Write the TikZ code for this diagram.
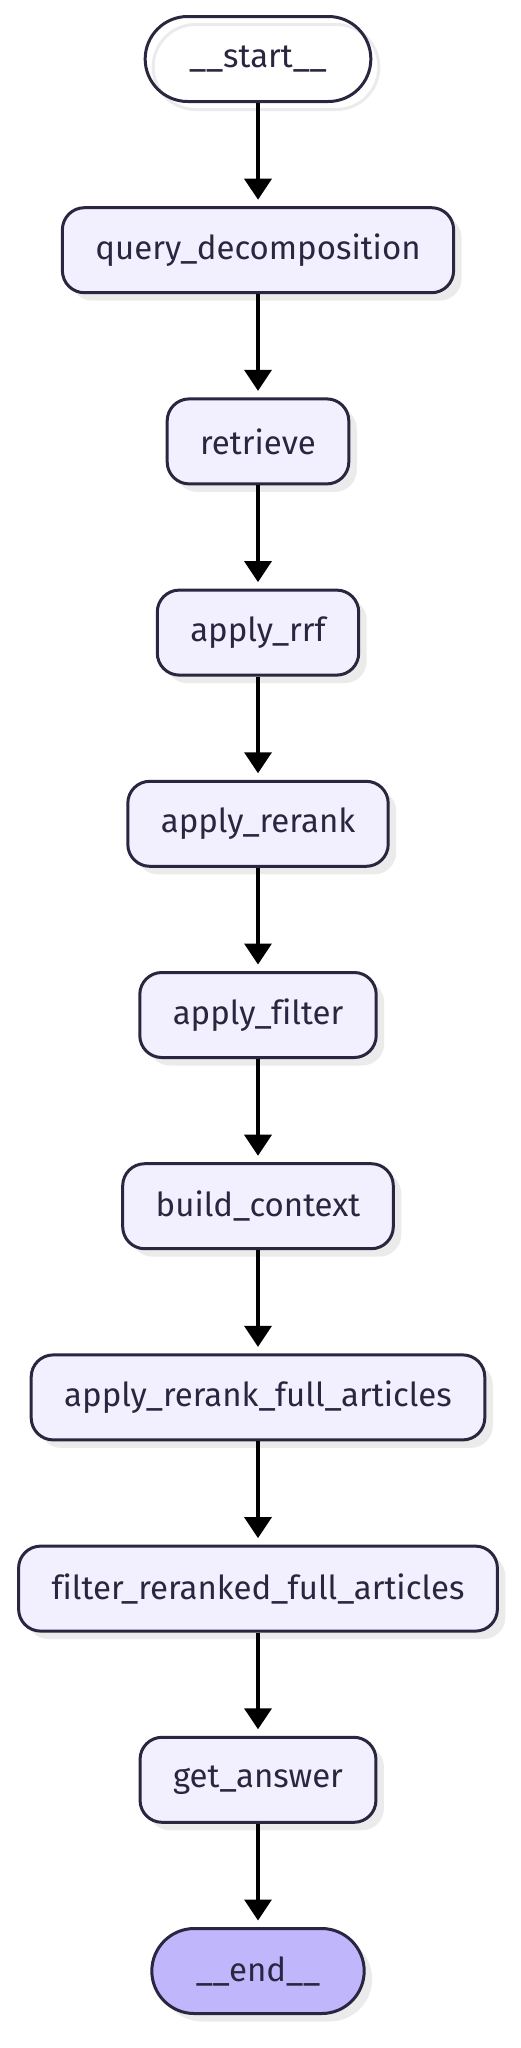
\documentclass[tikz,border=0pt]{standalone}
\usepackage{fontspec}
\setmainfont[Ligatures=NoCommon]{Fira Sans}
\usetikzlibrary{arrows.meta,shadows,positioning}

\definecolor{nodefill}{HTML}{F2F0FF}
\definecolor{endfill}{HTML}{BFB6FC}
\definecolor{nodeline}{HTML}{2B2640}
\definecolor{shadowgray}{HTML}{EBEBEB}

\begin{document}
\begin{tikzpicture}[->,>={Triangle[width=27pt,length=21pt]},shorten >=6.5pt,
                    line width=3.5pt,node distance=191.2pt,
                    every node/.style={font=\fontsize{33}{36}\selectfont}]

  \tikzstyle{node base}=[draw=nodeline,text=nodeline,line width=3pt,minimum height=85pt]
  \tikzstyle{box}=[node base,fill=nodefill,rounded corners=22pt,inner xsep=33pt,
                   drop shadow={shadow xshift=8pt,shadow yshift=-8pt,fill=shadowgray,opacity=1}]
  \tikzstyle{terminal}=[node base,rounded corners=42.5pt,inner xsep=44pt]

  \useasboundingbox (0,0) rectangle (521pt,-2048pt);

  \node[terminal,drop shadow={shadow xshift=8pt,shadow yshift=-8pt,fill=none,
        draw=shadowgray,opacity=1}] (start) at (258pt,-59pt) {\_\_start\_\_};
  \node[box] (query)   [below of=start]   {query\_decomposition};
  \node[box] (retr)    [below of=query]   {retrieve};
  \node[box] (rrf)     [below of=retr]    {apply\_rrf};
  \node[box] (rerank)  [below of=rrf]     {apply\_rerank};
  \node[box] (filter)  [below of=rerank]  {apply\_filter};
  \node[box] (context) [below of=filter]  {build\_context};
  \node[box] (rerankfull) [below of=context]    {apply\_rerank\_full\_articles};
  \node[box] (filterfull) [below of=rerankfull] {filter\_reranked\_full\_articles};
  \node[box] (answer)  [below of=filterfull] {get\_answer};
  \node[terminal,fill=endfill,drop shadow={shadow xshift=8pt,shadow yshift=-8pt,
        fill=shadowgray,opacity=1}] (end) [below of=answer] {\_\_end\_\_};

  \path
  (start)      edge (query)
  (query)      edge (retr)
  (retr)       edge (rrf)
  (rrf)        edge (rerank)
  (rerank)     edge (filter)
  (filter)     edge (context)
  (context)    edge (rerankfull)
  (rerankfull) edge (filterfull)
  (filterfull) edge (answer)
  (answer)     edge (end);
\end{tikzpicture}
\end{document}
